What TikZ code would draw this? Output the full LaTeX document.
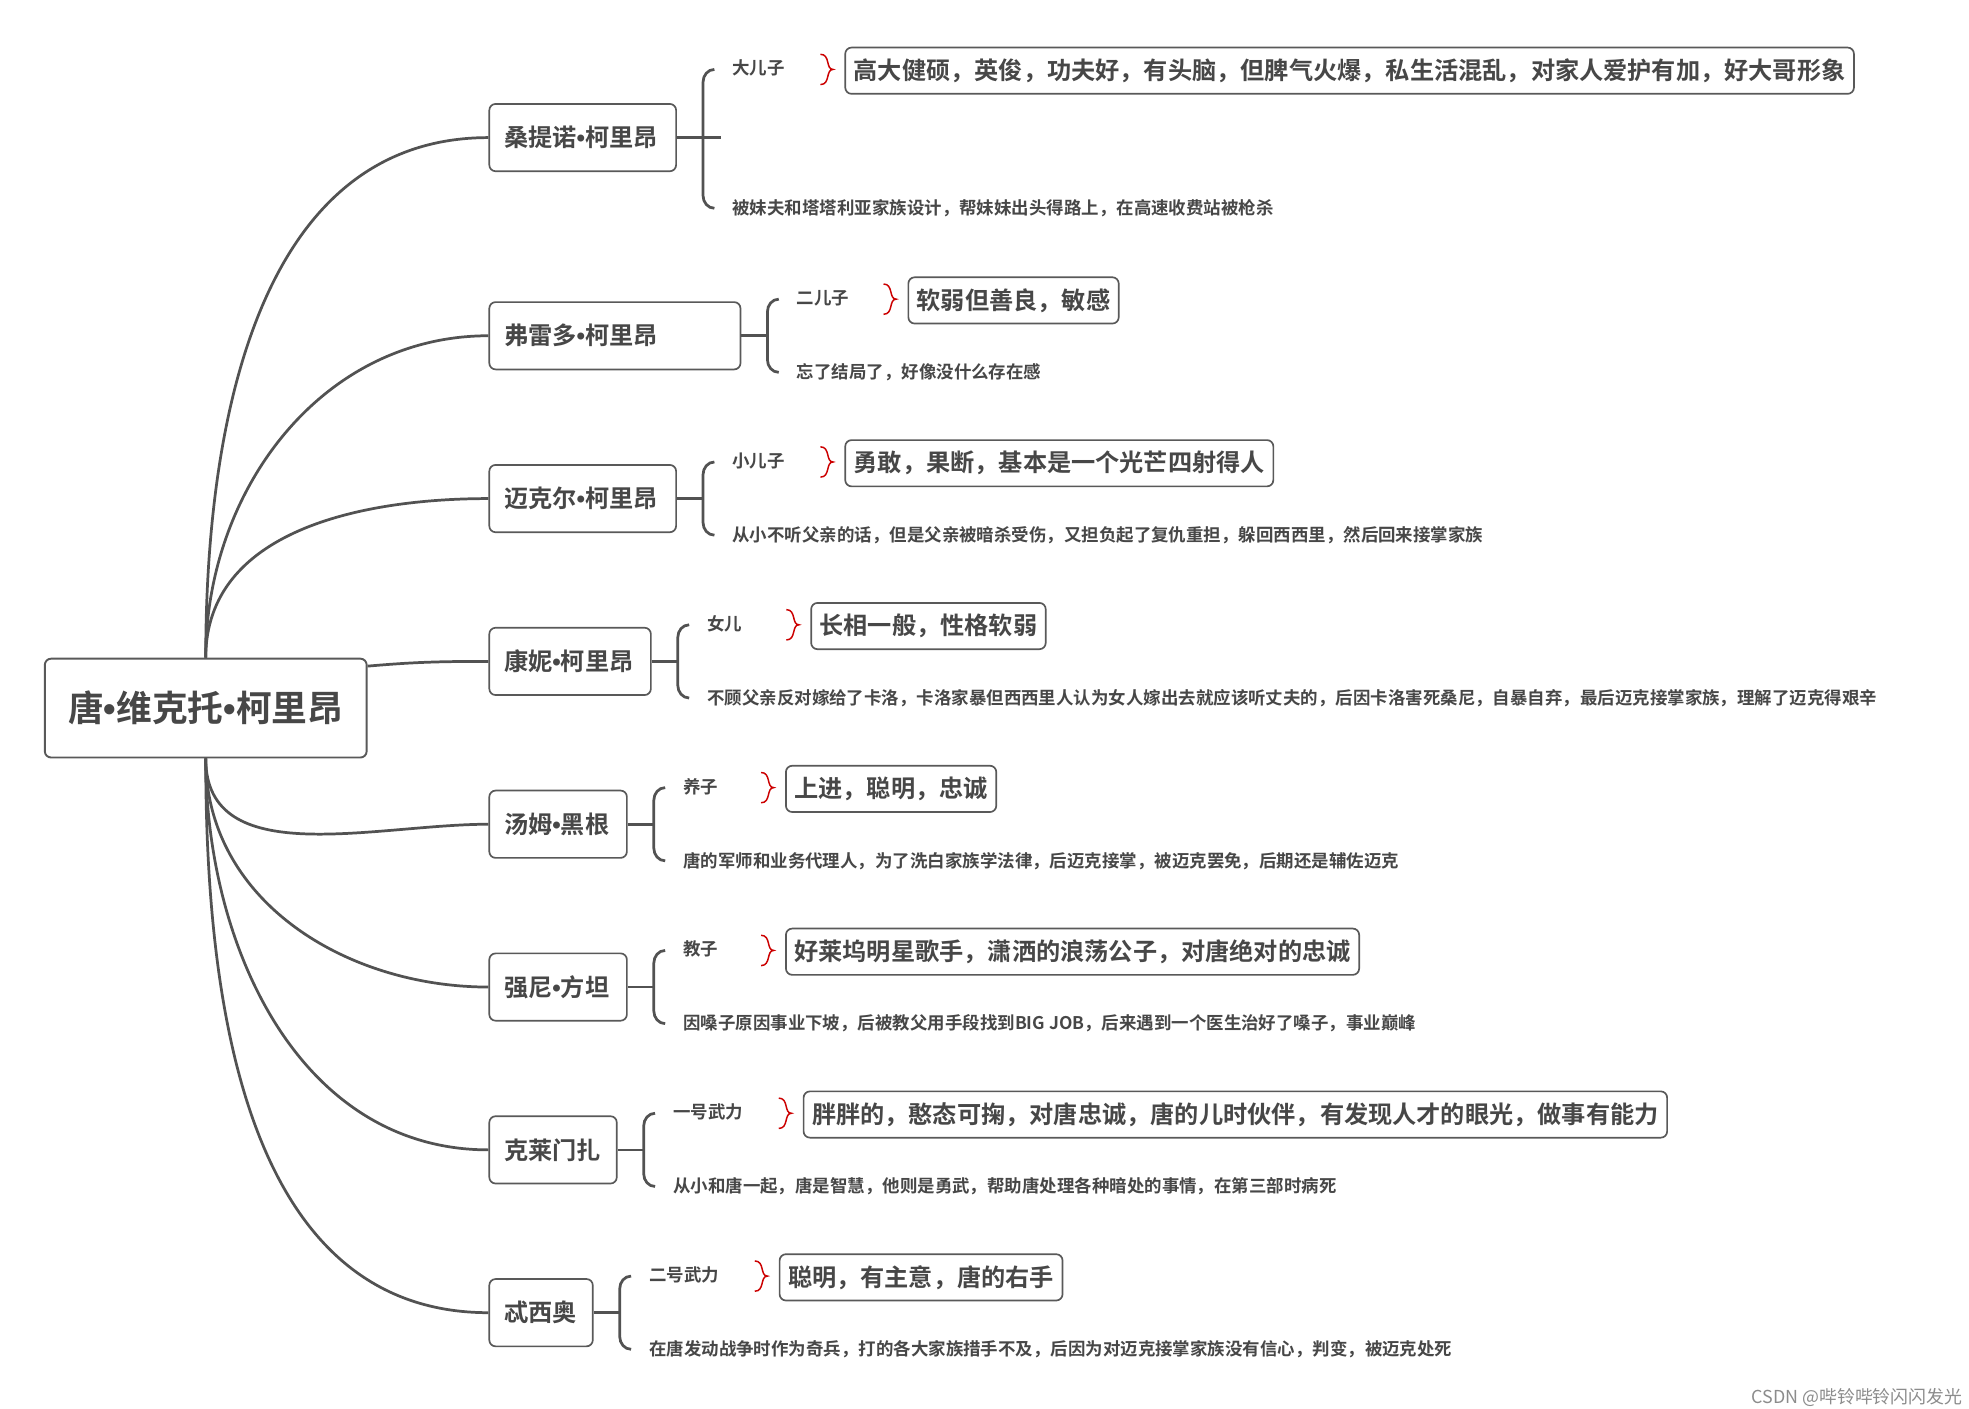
\documentclass[tikz,border=0pt]{standalone}
\usepackage{fontspec}
\setmainfont{Noto Sans CJK SC}
\newfontfamily\cjkb{Noto Sans CJK SC Bold}
\newfontfamily\latb{Liberation Sans}
\newcommand{\bul}{{\latb\bfseries •}}
\begin{document}
\begin{tikzpicture}[x=0.6pt,y=-0.6pt,
  lin/.style={draw=black!68,line width=1.3pt},
  rootbox/.style={draw=black!65,line width=0.9pt,rounded corners=3pt,fill=white,text=black!72,font=\cjkb\fontsize{17}{20}\selectfont,minimum width=153pt,minimum height=47pt,inner sep=0pt},
  childbox/.style={draw=black!65,line width=0.8pt,rounded corners=3pt,fill=white,text=black!72,font=\cjkb\fontsize{11.5}{14}\selectfont,minimum height=32pt,inner xsep=7pt,anchor=west,align=left},
  descbox/.style={draw=black!65,line width=0.8pt,rounded corners=3pt,fill=white,text=black!72,font=\cjkb\fontsize{11.5}{14}\selectfont,minimum height=22pt,inner xsep=4pt,anchor=west},
  small/.style={text=black!72,font=\cjkb\fontsize{8.3}{10}\selectfont,anchor=west,inner sep=0pt}]
\fill[white] (0,0) rectangle (1560,1116);
\useasboundingbox (0,0) rectangle (1560,1116);
\node[rootbox] (root) at (163,561) {唐\bul 维克托\bul 柯里昂};
\foreach \i/\cy/\w/\top/\bot/\br/\name/\lab/\desc/\btm in {
1/109/148/55/165/655/桑提诺\bul 柯里昂/大儿子/高大健硕，英俊，功夫好，有头脑，但脾气火爆，私生活混乱，对家人爱护有加，好大哥形象/被妹夫和塔塔利亚家族设计，帮妹妹出头得路上，在高速收费站被枪杀,
2/266/199/237/295/705/弗雷多\bul 柯里昂/二儿子/软弱但善良，敏感/忘了结局了，好像没什么存在感,
3/395/148/366/424/655/迈克尔\bul 柯里昂/小儿子/勇敢，果断，基本是一个光芒四射得人/从小不听父亲的话，但是父亲被暗杀受伤，又担负起了复仇重担，躲回西西里，然后回来接掌家族,
4/524/128/495/553/628/康妮\bul 柯里昂/女儿/长相一般，性格软弱/不顾父亲反对嫁给了卡洛，卡洛家暴但西西里人认为女人嫁出去就应该听丈夫的，后因卡洛害死桑尼，自暴自弃，最后迈克接掌家族，理解了迈克得艰辛,
5/653/109/624/682/608/汤姆\bul 黑根/养子/上进，聪明，忠诚/唐的军师和业务代理人，为了洗白家族学法律，后迈克接掌，被迈克罢免，后期还是辅佐迈克,
6/782/109/753/811/608/强尼\bul 方坦/教子/好莱坞明星歌手，潇洒的浪荡公子，对唐绝对的忠诚/因嗓子原因事业下坡，后被教父用手段找到BIG JOB，后来遇到一个医生治好了嗓子，事业巅峰,
7/911/101/882/940/622/克莱门扎/一号武力/胖胖的，憨态可掬，对唐忠诚，唐的儿时伙伴，有发现人才的眼光，做事有能力/从小和唐一起，唐是智慧，他则是勇武，帮助唐处理各种暗处的事情，在第三部时病死,
8/1040/82/1011/1069/603/忒西奥/二号武力/聪明，有主意，唐的右手/在唐发动战争时作为奇兵，打的各大家族措手不及，后因为对迈克接掌家族没有信心，判变，被迈克处死}{
  \pgfmathsetmacro{\bx}{387+\w+22}
  \pgfmathsetmacro{\tw}{\w*0.6-14}
  \node[childbox,text width=\tw pt] (c\i) at (387,\cy) {\name};
  \draw[lin] (c\i.east) -- (\bx,\cy);
  \draw[lin] (\bx+9,\top) to[out=180,in=90] (\bx,\top+10) -- (\bx,\bot-10) to[out=-90,in=180] (\bx+9,\bot);
  \node[small] (l\i) at (\bx+23,\top-1) {\lab};
  \node[small] (b\i) at (\bx+23,\bot) {\btm};
  \draw[red!80!black,line width=0.7pt] (\br-5,\top-12) .. controls (\br+3,\top-12) and (\br-1,\top) .. (\br+5,\top) .. controls (\br-1,\top) and (\br+3,\top+12) .. (\br-5,\top+12);
  \node[descbox] (d\i) at (\br+14,\top+1) {\desc};
}
\coordinate (ext1) at (571,109);
\draw[lin] (c1.east) -- (ext1);
\foreach \i in {1,2,3} \draw[lin] (root.north) to[out=90,in=180] (c\i.west);
\draw[lin] ([yshift=-4pt]root.north east) to[out=5,in=180] (c4.west);
\foreach \i in {5,6,7,8} \draw[lin] (root.south) to[out=-90,in=180] (c\i.west);
\node[text=black!45,font=\fontsize{8.5}{10}\selectfont,anchor=east,inner sep=0pt] (wm) at (1555,1107) {CSDN @哔铃哔铃闪闪发光};
\end{tikzpicture}
\end{document}
